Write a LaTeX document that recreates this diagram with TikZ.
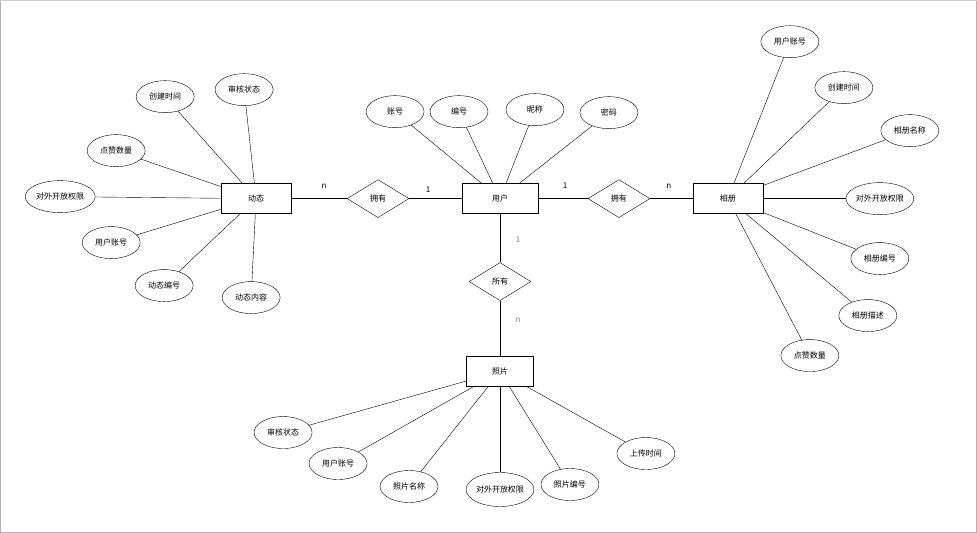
\documentclass[tikz,border=0pt]{standalone}
\usepackage{fontspec}
\setmainfont{Noto Sans CJK SC}
\usetikzlibrary{shapes.geometric}
\begin{document}
\begin{tikzpicture}[x=1pt,y=-1pt,
 ent/.style={draw,minimum width=70pt,minimum height=30pt,inner sep=0pt,font=\fontsize{8}{9}\selectfont},
 att/.style={draw,ellipse,minimum width=58pt,minimum height=32pt,inner sep=0pt,font=\fontsize{8}{9}\selectfont},
 rel/.style={draw,diamond,minimum width=62pt,minimum height=38pt,inner sep=0pt,aspect=1.7,font=\fontsize{8}{9}\selectfont},
 lab/.style={font=\fontsize{8}{9}\selectfont}]
\draw[gray!60,fill=white] (0.5,0.5) rectangle (976.5,532.5);
\draw[gray!40] (0,1) -- (977,1);
\node[ent] (dt) at (256,199) {动态};
\node[ent,minimum width=76pt] (yh) at (500,199) {用户};
\node[ent] (xc) at (728,199) {相册};
\node[ent,minimum width=67pt] (zp) at (500,372) {照片};
\node[rel] (r1) at (378,199) {拥有};
\node[rel] (r2) at (619,199) {拥有};
\node[rel] (r3) at (500,282) {所有};
\draw (dt) -- (r1) -- (yh) -- (r2) -- (xc);
\draw (yh) -- (r3) -- (zp);
\node[lab] at (324,187) {n};
\node[lab] at (428,190) {1};
\node[lab] at (565,186) {1};
\node[lab] at (669,187) {n};
\node[lab,gray] at (518,240) {1};
\node[lab,gray] at (518,321) {n};
% dongtai
\node[att] (a1) at (165,97) {创建时间};
\node[att] (a2) at (244,90) {审核状态};
\node[att] (a3) at (116,151) {点赞数量};
\node[att,minimum width=70pt] (a4) at (60,197) {对外开放权限};
\node[att] (a5) at (111,243) {用户账号};
\node[att] (a6) at (164,286) {动态编号};
\node[att] (a7) at (251,298) {动态内容};
\foreach \a in {a1,a2,a3,a4,a5,a6,a7} \draw (dt) -- (\a);
% yonghu
\node[att] (b1) at (395,112) {账号};
\node[att] (b2) at (459,112) {编号};
\node[att] (b3) at (535,110) {昵称};
\node[att] (b4) at (609,113) {密码};
\foreach \a in {b1,b2,b3,b4} \draw (yh) -- (\a);
% xiangce
\node[att] (c1) at (790,42) {用户账号};
\node[att] (c2) at (844,88) {创建时间};
\node[att] (c3) at (910,131) {相册名称};
\node[att,minimum width=64pt] (c4) at (880,199) {对外开放权限};
\node[att] (c5) at (880,259) {相册编号};
\node[att] (c6) at (868,316) {相册描述};
\node[att] (c7) at (810,356) {点赞数量};
\foreach \a in {c1,c2,c3,c4,c5,c6,c7} \draw (xc) -- (\a);
% zhaopian
\node[att] (d1) at (283,433) {审核状态};
\node[att] (d2) at (338,464) {用户账号};
\node[att] (d3) at (409,487) {照片名称};
\node[att,minimum width=62pt,minimum height=34pt] (d4) at (500,490) {对外开放权限};
\node[att] (d5) at (570,485) {照片编号};
\node[att] (d6) at (646,454) {上传时间};
\foreach \a in {d1,d2,d3,d4,d5,d6} \draw (zp) -- (\a);
\end{tikzpicture}
\end{document}
